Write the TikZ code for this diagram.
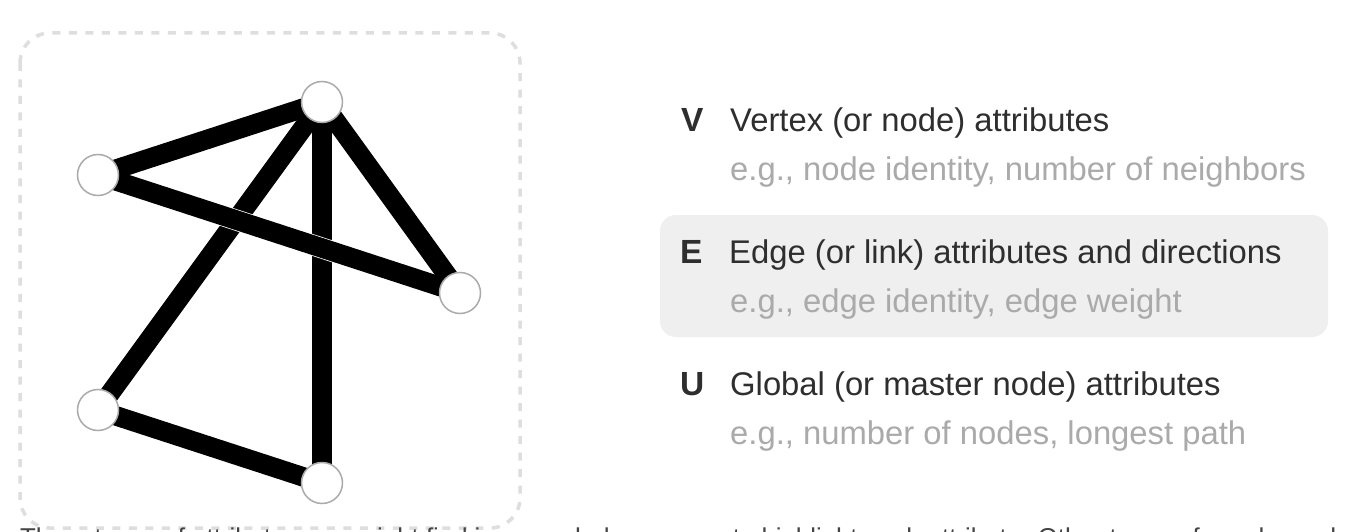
\documentclass[tikz,border=0pt]{standalone}
\usepackage{fontspec}
\setmainfont{Liberation Sans}
\usetikzlibrary{backgrounds,calc}
\definecolor{titlecol}{HTML}{2E2E2E}
\definecolor{subcol}{HTML}{AAAAAA}
\definecolor{hlcol}{HTML}{EFEFEF}
\definecolor{boxcol}{HTML}{DEDEDE}
\definecolor{ringcol}{HTML}{AAAAAA}
\definecolor{capcol}{HTML}{444444}
\tikzset{
  vtx/.style={circle, draw=ringcol, line width=1.5pt, fill=white, minimum size=41pt, inner sep=0pt},
  edgeline/.style={line width=19.5pt, draw=black},
  halo/.style={line width=21pt, draw=white},
  letter/.style={anchor=base west, inner sep=0pt, text=titlecol, font=\fontsize{33.5}{39}\selectfont\bfseries},
  title/.style={anchor=base west, inner sep=0pt, text=titlecol, font=\fontsize{32.8}{39}\selectfont},
  subtitle/.style={anchor=base west, inner sep=0pt, text=subcol, font=\fontsize{32.8}{39}\selectfont},
  caption/.style={anchor=base west, inner sep=0pt, text=capcol, font=\fontsize{25.8}{30}\selectfont}
}
\begin{document}
\begin{tikzpicture}[x=1pt,y=-1pt]
\useasboundingbox (0,0) rectangle (1366,532);
\clip (0,0) rectangle (1366,532);

% dashed frame
\draw[boxcol, line width=3.5pt, dash pattern=on 8pt off 8.5pt, rounded corners=30pt] (20,33) rectangle (520,528);

% graph vertices
\node[vtx] (vt) at (322,102) {};
\node[vtx] (vl) at (98,175) {};
\node[vtx] (vr) at (460,293) {};
\node[vtx] (vbl) at (98,410) {};
\node[vtx] (vb) at (322,483) {};

\begin{pgfonlayer}{background}
  \fill[white] (0,0) rectangle (1366,532);
  \draw[edgeline] (vl.center) -- (vt.center);
  \draw[edgeline] (vt.center) -- (vr.center);
  \draw[edgeline] (vt.center) -- (vbl.center);
  \draw[edgeline] (vt.center) -- (vb.center);
  \draw[edgeline] (vbl.center) -- (vb.center);
  \draw[halo] ($(vl.center)!0.12!(vr.center)$) -- ($(vl.center)!0.9!(vr.center)$);
  \draw[edgeline] (vl.center) -- (vr.center);
  % highlight panel
  \fill[hlcol, rounded corners=16pt] (660,215) rectangle (1328,337);
\end{pgfonlayer}

% legend
\node[letter] (lv) at (681,132) {V};
\node[title] (tv) at (730,132) {Vertex (or node) attributes};
\node[subtitle] (sv) at (730,180) {e.g., node identity, number of neighbors};

\node[letter] (le) at (680,263) {E};
\node[title] (te) at (729,263) {Edge (or link) attributes and directions};
\node[subtitle] (se) at (730,312) {e.g., edge identity, edge weight};

\node[letter] (lu) at (680,395) {U};
\node[title] (tu) at (730,395) {Global (or master node) attributes};
\node[subtitle] (su) at (730,444) {e.g., number of nodes, longest path};

% caption, cut off by the lower edge as in the reference
\node[caption] (cap) at (20,546) {Three types of attributes one might find in a graph, hover over to highlight each attribute. Other types of graphs and};
\end{tikzpicture}
\end{document}
